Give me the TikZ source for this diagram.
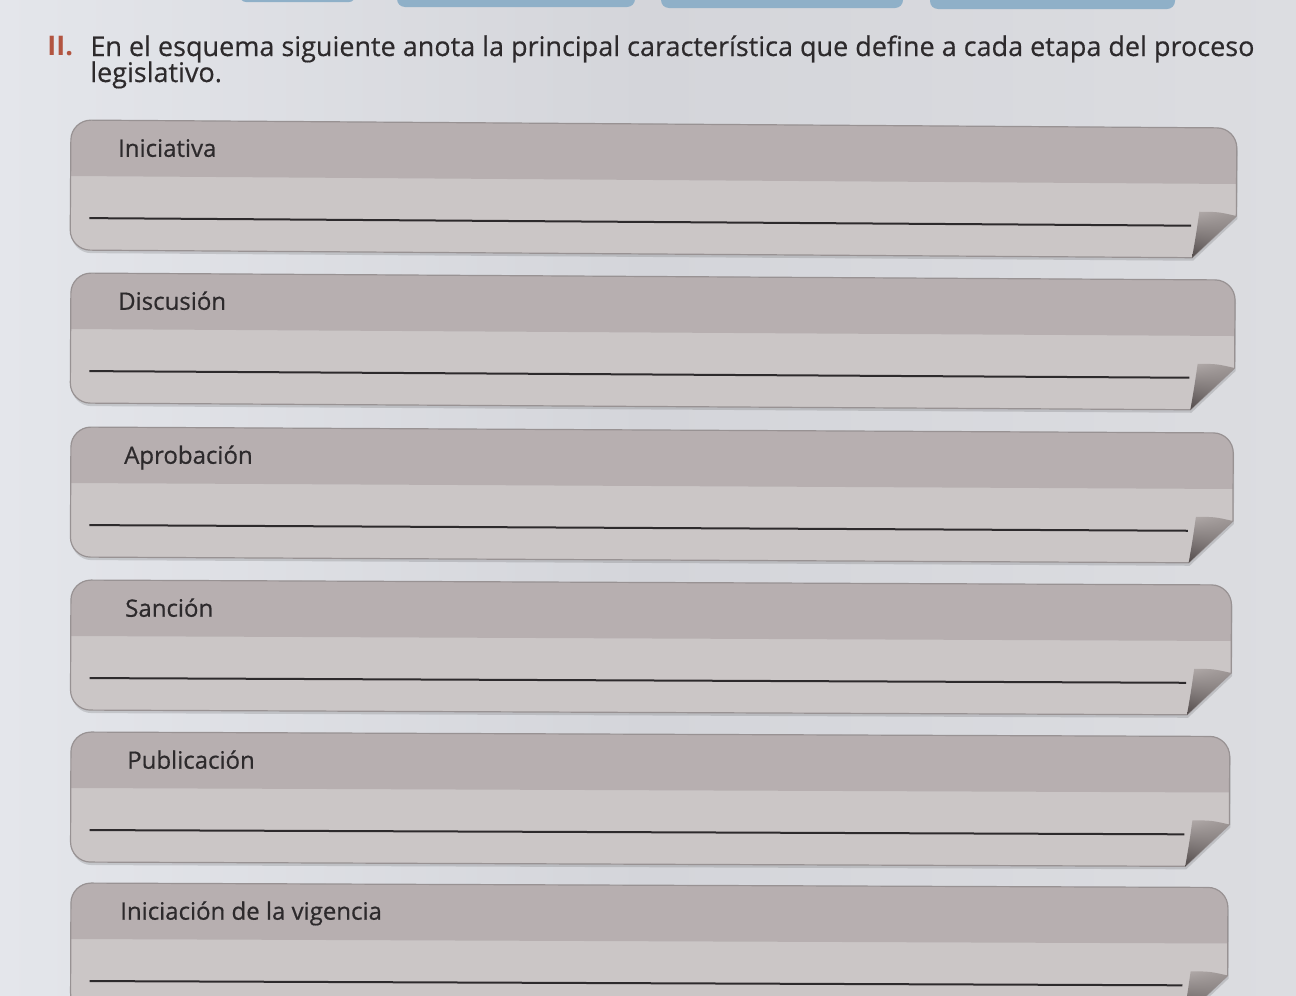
\documentclass[tikz,border=0pt]{standalone}
\usepackage{fontspec}
\usetikzlibrary{shadings}
\setmainfont{Open Sans}
\newfontfamily\titlefont[FakeBold=0.6]{Open Sans}
\newfontfamily\headfont[FakeBold=0.4]{Open Sans}
\definecolor{pagebgL}{RGB}{228,230,235}
\definecolor{pagebgM}{RGB}{212,213,218}
\definecolor{pagebgR}{RGB}{220,221,225}
\definecolor{headc}{RGB}{183,175,176}
\definecolor{bodyc}{RGB}{203,198,198}
\definecolor{edgec}{RGB}{152,146,147}
\definecolor{inkc}{RGB}{45,42,44}
\definecolor{numc}{RGB}{178,84,64}
\definecolor{tabc}{RGB}{143,176,200}
\definecolor{flapLL}{RGB}{80,73,73}
\definecolor{flapLR}{RGB}{118,111,110}
\definecolor{flapUL}{RGB}{178,171,170}
\definecolor{flapUR}{RGB}{158,151,150}
\tikzset{
  titletext/.style={anchor=base west, inner sep=0pt, text=inkc, font=\titlefont\fontsize{12pt}{14pt}\selectfont},
  headtext/.style={anchor=base west, inner sep=0pt, text=inkc, font=\headfont\fontsize{13.5pt}{16pt}\selectfont},
  blankline/.style={draw=inkc, line width=1pt},
  cardedge/.style={draw=edgec, line width=0.6pt},
}
\begin{document}
\begin{tikzpicture}[x=0.5pt,y=-0.5pt]
\useasboundingbox (0,0) rectangle (1296,996);
\clip (0,0) rectangle (1296,996);
% page background
\shade[left color=pagebgL, right color=pagebgR, middle color=pagebgM] (0,0) rectangle (1296,996);
% tabs at the top
\fill[tabc, rounded corners=3pt] (240,-10) rectangle (355,2);
\fill[tabc, rounded corners=4pt] (397,-10) rectangle (635,7);
\fill[tabc, rounded corners=4pt] (661,-10) rectangle (903,8);
\fill[tabc, rounded corners=4pt] (930,-10) rectangle (1175,9);
% heading
\begin{scope}[shift={(90,56)}, rotate=-0.34]
\node[headtext, text=numc, font=\bfseries\fontsize{13.5pt}{16pt}\selectfont] (num) at (-43,0) {II.};
\node[headtext] (h1) at (0,0) {En el esquema siguiente anota la principal característica que define a cada etapa del proceso};
\node[headtext] (h2) at (0,26) {legislativo.};
\end{scope}
% cards
\def\H{130}
\def\cardpath{(0,20) .. controls (0,9) and (9,0) .. (20,0) -- (\W-20,0) .. controls (\W-9,0) and (\W,9) .. (\W,20) -- (\W,88) -- (\W-44,\H) -- (20,\H) .. controls (9,\H) and (0,\H-9) .. (0,\H-20) -- cycle}
\foreach \i/\ttl/\tx/\tilt/\T in {0/Iniciativa/47/8/120, 1/Discusión/47/7/273, 2/Aprobación/53/6/427, 3/Sanción/54/5/580, 4/Publicación/56/4.5/732, 5/Iniciación de la vigencia/49/4.5/883} {
  \pgfmathsetmacro\W{1166-1.8*\i}
  \pgfmathsetmacro\ang{-atan(\tilt/1160)}
  \begin{scope}[shift={(71,\T)}, rotate=\ang]
    \fill[black, opacity=0.13, shift={(1,3)}] \cardpath;
    \fill[bodyc] \cardpath;
    \begin{scope}
      \clip \cardpath;
      \fill[headc] (0,0) rectangle (\W,56);
    \end{scope}
    \draw[cardedge] \cardpath;
    \node[titletext] (title\i) at (\tx,36.5) {\ttl};
    \coordinate (la\i) at (19,98);
    \coordinate (lb\i) at (\W-45,98);
    \draw[blankline] (la\i) -- (lb\i);
    % page curl
    \shade[upper left=flapUL, upper right=flapUR, lower left=flapLL, lower right=flapLR]
      (\W-37,84) .. controls (\W-40,106) .. (\W-44,\H) -- (\W,88) .. controls (\W-18,84) .. cycle;
  \end{scope}
}
\end{tikzpicture}
\end{document}
